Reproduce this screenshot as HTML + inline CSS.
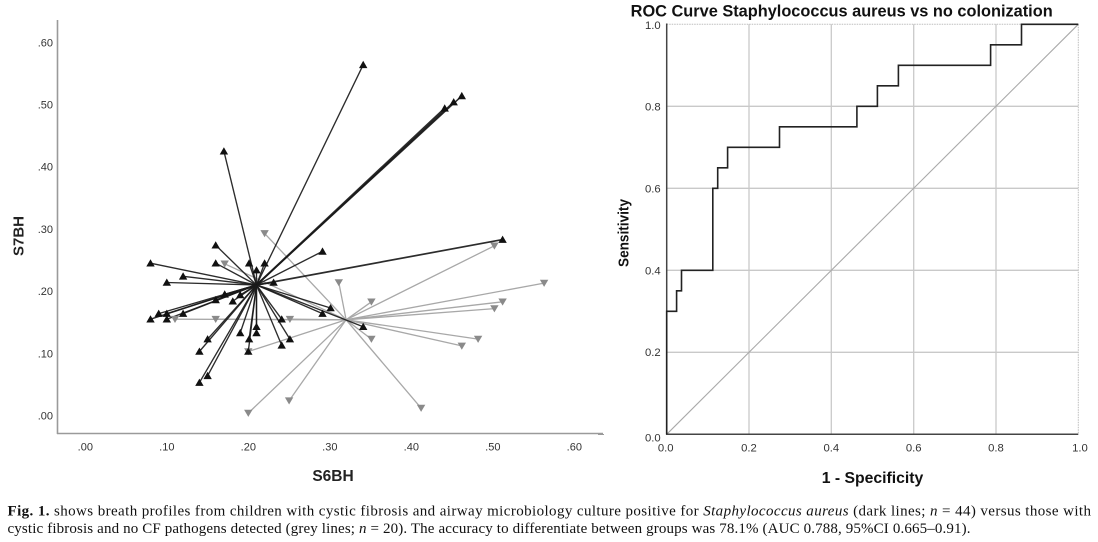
<!DOCTYPE html>
<html>
<head>
<meta charset="utf-8">
<style>
  html, body { margin: 0; padding: 0; background: #ffffff; }
  svg { display: block; }
</style>
</head>
<body>
<svg width="1098" height="542" viewBox="0 0 1098 542" xmlns="http://www.w3.org/2000/svg">
  <defs>
    <path id="up" d="M0,-4 L4.2,3.3 L-4.2,3.3 Z" fill="#111"/>
    <path id="dn" d="M0,3.8 L4.2,-3.3 L-4.2,-3.3 Z" fill="#8a8a8a"/>
  </defs>
  <rect x="0" y="0" width="1098" height="542" fill="#fff"/>

  <!-- ============ LEFT CHART ============ -->
  <g font-family="Liberation Sans, Arial, sans-serif">
    <line x1="57.5" y1="20" x2="57.5" y2="434" stroke="#9a9a9a" stroke-width="1.6"/>
    <line x1="57" y1="433.5" x2="603" y2="433.5" stroke="#9a9a9a" stroke-width="1.6"/>

    <g font-size="11" fill="#333" text-anchor="end">
      <text x="53" y="46.3">.60</text>
      <text x="53" y="108.5">.50</text>
      <text x="53" y="170.7">.40</text>
      <text x="53" y="232.9">.30</text>
      <text x="53" y="295.1">.20</text>
      <text x="53" y="357.3">.10</text>
      <text x="53" y="419.5">.00</text>
    </g>
    <g font-size="11" fill="#333" text-anchor="middle">
      <text x="85.3" y="450.5">.00</text>
      <text x="166.8" y="450.5">.10</text>
      <text x="248.3" y="450.5">.20</text>
      <text x="329.8" y="450.5">.30</text>
      <text x="411.3" y="450.5">.40</text>
      <text x="492.8" y="450.5">.50</text>
      <text x="574.3" y="450.5">.60</text>
    </g>
    <text x="333" y="481" font-size="15.5" font-weight="bold" fill="#222" text-anchor="middle">S6BH</text>
    <text transform="translate(23.5,236) rotate(-90)" font-size="15" font-weight="bold" fill="#222" text-anchor="middle">S7BH</text>

    <g stroke="#a8a8a8" stroke-width="1.3" fill="none">
      <line x1="346.1" y1="319.8" x2="494.4" y2="245.8"/>
      <line x1="346.1" y1="319.8" x2="544.1" y2="283.1"/>
      <line x1="346.1" y1="319.8" x2="502.6" y2="301.8"/>
      <line x1="346.1" y1="319.8" x2="494.4" y2="308.6"/>
      <line x1="346.1" y1="319.8" x2="478.1" y2="339.1"/>
      <line x1="346.1" y1="319.8" x2="461.8" y2="345.9"/>
      <line x1="346.1" y1="319.8" x2="421.1" y2="408.1"/>
      <line x1="346.1" y1="319.8" x2="338.8" y2="282.5"/>
      <line x1="346.1" y1="319.8" x2="371.4" y2="301.8"/>
      <line x1="346.1" y1="319.8" x2="371.4" y2="339.1"/>
      <line x1="346.1" y1="319.8" x2="264.6" y2="233.4"/>
      <line x1="346.1" y1="319.8" x2="224.7" y2="263.8"/>
      <line x1="346.1" y1="319.8" x2="175.0" y2="319.2"/>
      <line x1="346.1" y1="319.8" x2="215.7" y2="319.2"/>
      <line x1="346.1" y1="319.8" x2="289.9" y2="319.2"/>
      <line x1="346.1" y1="319.8" x2="248.3" y2="413.1"/>
      <line x1="346.1" y1="319.8" x2="289.1" y2="400.7"/>
      <line x1="346.1" y1="319.8" x2="248.3" y2="351.5"/>
    </g>

    <g stroke="#1a1a1a" stroke-width="1.35" fill="none" stroke-opacity="0.92">
      <line x1="256.5" y1="285" x2="363.2" y2="64.8"/>
      <line x1="256.5" y1="285" x2="444.7" y2="108.3" stroke-width="2"/>
      <line x1="256.5" y1="285" x2="453.7" y2="102.1" stroke-width="1.7"/>
      <line x1="256.5" y1="285" x2="461.8" y2="95.9" stroke-width="1.5"/>
      <line x1="256.5" y1="285" x2="223.9" y2="151.2"/>
      <line x1="256.5" y1="285" x2="502.6" y2="239.6" stroke-width="1.7"/>
      <line x1="256.5" y1="285" x2="322.5" y2="251.4"/>
      <line x1="256.5" y1="285" x2="215.7" y2="245.2"/>
      <line x1="256.5" y1="285" x2="150.5" y2="263.2"/>
      <line x1="256.5" y1="285" x2="215.7" y2="263.2"/>
      <line x1="256.5" y1="285" x2="249.1" y2="263.2"/>
      <line x1="256.5" y1="285" x2="264.6" y2="263.2"/>
      <line x1="256.5" y1="285" x2="256.5" y2="270.1"/>
      <line x1="256.5" y1="285" x2="183.1" y2="276.3"/>
      <line x1="256.5" y1="285" x2="166.8" y2="282.5"/>
      <line x1="256.5" y1="285" x2="273.6" y2="282.5"/>
      <line x1="256.5" y1="285" x2="224.7" y2="294.3"/>
      <line x1="256.5" y1="285" x2="240.2" y2="294.9"/>
      <line x1="256.5" y1="285" x2="215.7" y2="299.9"/>
      <line x1="256.5" y1="285" x2="232.8" y2="301.2"/>
      <line x1="256.5" y1="285" x2="330.6" y2="308.0"/>
      <line x1="256.5" y1="285" x2="322.5" y2="313.6"/>
      <line x1="256.5" y1="285" x2="158.7" y2="313.6"/>
      <line x1="256.5" y1="285" x2="166.8" y2="313.6"/>
      <line x1="256.5" y1="285" x2="183.1" y2="313.6"/>
      <line x1="256.5" y1="285" x2="150.5" y2="319.2"/>
      <line x1="256.5" y1="285" x2="166.8" y2="319.2"/>
      <line x1="256.5" y1="285" x2="281.7" y2="319.2"/>
      <line x1="256.5" y1="285" x2="363.2" y2="326.7"/>
      <line x1="256.5" y1="285" x2="256.5" y2="326.7"/>
      <line x1="256.5" y1="285" x2="240.2" y2="332.9"/>
      <line x1="256.5" y1="285" x2="256.5" y2="332.9"/>
      <line x1="256.5" y1="285" x2="249.1" y2="339.1"/>
      <line x1="256.5" y1="285" x2="289.9" y2="339.1"/>
      <line x1="256.5" y1="285" x2="207.6" y2="339.1"/>
      <line x1="256.5" y1="285" x2="281.7" y2="345.3"/>
      <line x1="256.5" y1="285" x2="199.4" y2="351.5"/>
      <line x1="256.5" y1="285" x2="248.3" y2="351.5"/>
      <line x1="256.5" y1="285" x2="207.6" y2="375.8"/>
      <line x1="256.5" y1="285" x2="199.4" y2="382.6"/>
    </g>

    <g>
      <use href="#dn" x="494.4" y="245.8"/>
      <use href="#dn" x="544.1" y="283.1"/>
      <use href="#dn" x="502.6" y="301.8"/>
      <use href="#dn" x="494.4" y="308.6"/>
      <use href="#dn" x="478.1" y="339.1"/>
      <use href="#dn" x="461.8" y="345.9"/>
      <use href="#dn" x="421.1" y="408.1"/>
      <use href="#dn" x="338.8" y="282.5"/>
      <use href="#dn" x="371.4" y="301.8"/>
      <use href="#dn" x="371.4" y="339.1"/>
      <use href="#dn" x="264.6" y="233.4"/>
      <use href="#dn" x="224.7" y="263.8"/>
      <use href="#dn" x="175.0" y="319.2"/>
      <use href="#dn" x="215.7" y="319.2"/>
      <use href="#dn" x="289.9" y="319.2"/>
      <use href="#dn" x="248.3" y="413.1"/>
      <use href="#dn" x="289.1" y="400.7"/>
      <use href="#dn" x="248.3" y="351.5"/>
    </g>

    <g>
      <use href="#up" x="363.2" y="64.8"/>
      <use href="#up" x="444.7" y="108.3"/>
      <use href="#up" x="453.7" y="102.1"/>
      <use href="#up" x="461.8" y="95.9"/>
      <use href="#up" x="223.9" y="151.2"/>
      <use href="#up" x="502.6" y="239.6"/>
      <use href="#up" x="322.5" y="251.4"/>
      <use href="#up" x="215.7" y="245.2"/>
      <use href="#up" x="150.5" y="263.2"/>
      <use href="#up" x="215.7" y="263.2"/>
      <use href="#up" x="249.1" y="263.2"/>
      <use href="#up" x="264.6" y="263.2"/>
      <use href="#up" x="256.5" y="270.1"/>
      <use href="#up" x="183.1" y="276.3"/>
      <use href="#up" x="166.8" y="282.5"/>
      <use href="#up" x="273.6" y="282.5"/>
      <use href="#up" x="224.7" y="294.3"/>
      <use href="#up" x="240.2" y="294.9"/>
      <use href="#up" x="215.7" y="299.9"/>
      <use href="#up" x="232.8" y="301.2"/>
      <use href="#up" x="330.6" y="308.0"/>
      <use href="#up" x="322.5" y="313.6"/>
      <use href="#up" x="158.7" y="313.6"/>
      <use href="#up" x="166.8" y="313.6"/>
      <use href="#up" x="183.1" y="313.6"/>
      <use href="#up" x="150.5" y="319.2"/>
      <use href="#up" x="166.8" y="319.2"/>
      <use href="#up" x="281.7" y="319.2"/>
      <use href="#up" x="363.2" y="326.7"/>
      <use href="#up" x="256.5" y="326.7"/>
      <use href="#up" x="240.2" y="332.9"/>
      <use href="#up" x="256.5" y="332.9"/>
      <use href="#up" x="249.1" y="339.1"/>
      <use href="#up" x="289.9" y="339.1"/>
      <use href="#up" x="207.6" y="339.1"/>
      <use href="#up" x="281.7" y="345.3"/>
      <use href="#up" x="199.4" y="351.5"/>
      <use href="#up" x="248.3" y="351.5"/>
      <use href="#up" x="207.6" y="375.8"/>
      <use href="#up" x="199.4" y="382.6"/>
    </g>
  </g>

  <!-- ============ ROC CHART ============ -->
  <g font-family="Liberation Sans, Arial, sans-serif">
    <text x="630.7" y="16.7" font-size="16.3" font-weight="bold" fill="#111" textLength="422" lengthAdjust="spacingAndGlyphs">ROC Curve Staphylococcus aureus vs no colonization</text>

    <g stroke="#c9c9c9" stroke-width="1.3">
      <line x1="749.0" y1="24.3" x2="749.0" y2="434.3"/>
      <line x1="831.3" y1="24.3" x2="831.3" y2="434.3"/>
      <line x1="913.7" y1="24.3" x2="913.7" y2="434.3"/>
      <line x1="996.0" y1="24.3" x2="996.0" y2="434.3"/>
      <line x1="666.7" y1="352.3" x2="1078.3" y2="352.3"/>
      <line x1="666.7" y1="270.3" x2="1078.3" y2="270.3"/>
      <line x1="666.7" y1="188.3" x2="1078.3" y2="188.3"/>
      <line x1="666.7" y1="106.3" x2="1078.3" y2="106.3"/>
    </g>
    <g stroke="#bdbdbd" stroke-width="1" stroke-dasharray="1.5,1">
      <line x1="666.7" y1="24.3" x2="1078.3" y2="24.3"/>
      <line x1="1078.3" y1="24.3" x2="1078.3" y2="434.3"/>
    </g>
    <line x1="666.7" y1="434.3" x2="1078.3" y2="24.3" stroke="#a9a9a9" stroke-width="1.1"/>

    <line x1="666.7" y1="23.5" x2="666.7" y2="435" stroke="#444" stroke-width="1.5"/>
    <line x1="666" y1="434.3" x2="1078.3" y2="434.3" stroke="#444" stroke-width="1.5"/>
    <line x1="598" y1="434.5" x2="604" y2="434.5" stroke="#999" stroke-width="1"/>

    <polyline fill="none" stroke="#222" stroke-width="1.6" stroke-linejoin="miter"
      points="666.7,434.3 666.7,311.3 676.6,311.3 676.6,290.8 681.5,290.8 681.5,270.3 712.8,270.3 712.8,188.3 717.7,188.3 717.7,167.8 727.6,167.8 727.6,147.3 779.5,147.3 779.5,126.8 856.9,126.8 856.9,106.3 877.4,106.3 877.4,85.8 898.4,85.8 898.4,65.3 990.6,65.3 990.6,44.8 1021.5,44.8 1021.5,24.3 1078.3,24.3"/>

    <g font-size="11.3" fill="#333" text-anchor="end">
      <text x="660.7" y="29">1.0</text>
      <text x="660.7" y="110.7">0.8</text>
      <text x="660.7" y="192.3">0.6</text>
      <text x="660.7" y="274.3">0.4</text>
      <text x="660.7" y="356">0.2</text>
      <text x="660.7" y="441.3">0.0</text>
    </g>
    <g font-size="11.3" fill="#333" text-anchor="middle">
      <text x="665.7" y="451.5">0.0</text>
      <text x="749" y="451.5">0.2</text>
      <text x="831.3" y="451.5">0.4</text>
      <text x="913.7" y="451.5">0.6</text>
      <text x="996" y="451.5">0.8</text>
      <text x="1080" y="451.5">1.0</text>
    </g>

    <text x="821.7" y="483" font-size="16" font-weight="bold" fill="#111" textLength="101.6" lengthAdjust="spacingAndGlyphs">1 - Specificity</text>
    <text transform="translate(628.5,267) rotate(-90)" font-size="15" font-weight="bold" fill="#111" textLength="68" lengthAdjust="spacingAndGlyphs">Sensitivity</text>
  </g>

  <!-- ============ CAPTION ============ -->
  <g font-family="Liberation Serif, 'Times New Roman', serif" font-size="15" fill="#111">
    <text x="7.5" y="515.5" textLength="1083.5" lengthAdjust="spacing"><tspan font-weight="bold">Fig. 1.</tspan> shows breath profiles from children with cystic fibrosis and airway microbiology culture positive for <tspan font-style="italic">Staphylococcus aureus</tspan> (dark lines; <tspan font-style="italic">n</tspan> = 44) versus those with</text>
    <text x="7.5" y="533" textLength="963" lengthAdjust="spacing">cystic fibrosis and no CF pathogens detected (grey lines; <tspan font-style="italic">n</tspan> = 20). The accuracy to differentiate between groups was 78.1% (AUC 0.788, 95%CI 0.665–0.91).</text>
  </g>
</svg>
</body>
</html>
